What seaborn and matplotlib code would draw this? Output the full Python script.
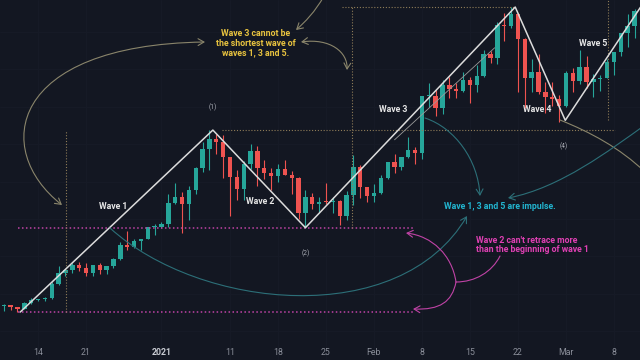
import numpy as np
import pandas as pd
import matplotlib
matplotlib.use('Agg')
import matplotlib.pyplot as plt
from matplotlib.path import Path
from matplotlib.patches import FancyArrowPatch
import seaborn as sns

# daily candles (price in thousand USD)
dates = pd.date_range('2020-12-07', '2021-03-11', freq='D')
opens = [19.36, 19.17, 18.32, 18.55, 18.26, 18.04, 18.81, 19.17, 19.27, 19.44, 21.35, 22.80, 23.14, 23.87,
         23.48, 22.75, 23.82, 23.24, 23.73, 24.69, 26.49, 26.28, 27.08, 27.36, 28.89,
         28.98, 29.39, 32.20, 33.00, 31.99, 33.95, 36.77, 39.37, 40.67, 40.24, 38.24, 35.57, 33.99, 37.40,
         39.15, 36.77, 36.10, 35.80, 36.63, 35.91, 35.47, 30.83, 33.00, 32.08, 32.26, 32.25, 32.47, 30.37,
         33.20, 36.90, 34.26,
         33.09, 33.50, 35.47, 37.62, 36.94, 38.29, 39.26, 38.87, 46.45, 46.51, 44.84, 47.97, 47.41, 47.19,
         48.63, 47.91, 49.13, 52.12, 51.55, 55.91, 55.84, 57.41, 54.09, 48.89, 49.68, 47.02, 46.28, 46.10,
         45.13, 49.59, 48.44, 50.35, 48.37, 48.75, 48.88, 50.97, 52.38, 54.88, 55.86]
highs = [19.42, 19.29, 18.64, 18.56, 18.27, 18.95, 19.41, 19.35, 19.57, 21.56, 23.77, 23.30, 24.17, 24.30,
         24.10, 23.84, 24.10, 23.78, 24.78, 26.87, 28.42, 27.40, 27.37, 28.99, 29.30,
         29.60, 33.30, 34.80, 33.60, 34.44, 36.94, 40.36, 41.95, 41.38, 41.30, 38.26, 36.60, 37.70, 40.10,
         39.75, 37.95, 36.85, 37.30, 37.85, 36.42, 35.60, 33.83, 33.46, 32.94, 34.88, 32.92, 32.56, 33.78,
         38.53, 37.20, 34.29,
         34.72, 35.90, 37.66, 38.71, 38.31, 40.96, 39.70, 46.20, 48.20, 47.31, 48.63, 48.99, 48.15, 49.72,
         49.00, 50.64, 52.62, 52.53, 56.37, 57.58, 58.35, 57.53, 54.18, 51.37, 52.04, 48.37, 48.38, 46.60,
         49.79, 50.20, 52.64, 51.77, 49.45, 49.20, 51.45, 52.40, 54.90, 57.39, 58.15]
lows = [18.90, 18.20, 17.65, 17.91, 17.57, 18.02, 18.71, 19.00, 19.05, 19.29, 21.23, 22.35, 22.77, 23.09,
        22.35, 22.35, 22.70, 22.70, 23.44, 24.50, 25.80, 26.10, 25.86, 27.32, 27.85,
        28.80, 29.00, 32.00, 28.13, 29.90, 33.30, 36.30, 36.60, 38.70, 35.50, 30.42, 32.53, 32.50, 36.70,
        34.41, 35.40, 33.85, 34.90, 35.90, 33.40, 30.07, 28.85, 31.39, 30.90, 32.06, 30.84, 29.24, 29.84,
        31.92, 32.83, 32.30,
        32.30, 33.42, 35.36, 36.16, 36.57, 38.22, 37.35, 37.99, 45.00, 43.73, 44.00, 46.13, 46.20, 47.00,
        45.57, 47.00, 48.95, 50.90, 50.71, 53.86, 55.48, 46.99, 44.89, 47.00, 46.67, 44.13, 45.15, 43.00,
        45.00, 47.05, 48.10, 47.50, 46.30, 47.07, 48.85, 49.27, 51.84, 53.03, 54.27]
closes = [19.17, 18.32, 18.55, 18.26, 18.04, 18.81, 19.17, 19.27, 19.44, 21.35, 22.80, 23.14, 23.87, 23.48,
          22.75, 23.82, 23.24, 23.73, 24.69, 26.49, 26.28, 27.08, 27.36, 28.89, 28.98,
          29.39, 32.20, 33.00, 31.99, 33.95, 36.77, 39.37, 40.67, 40.24, 38.24, 35.57, 33.99, 37.40, 39.15,
          36.77, 36.10, 35.80, 36.63, 35.91, 35.47, 30.83, 33.00, 32.08, 32.26, 32.25, 32.47, 30.37, 33.20,
          36.90, 34.26, 33.09,
          33.50, 35.47, 37.62, 36.94, 38.29, 39.26, 38.87, 46.45, 46.51, 44.84, 47.97, 47.41, 47.19, 48.63,
          47.91, 49.13, 52.12, 51.55, 55.91, 55.84, 57.41, 54.09, 48.89, 49.68, 47.02, 46.28, 46.10, 45.13,
          49.59, 48.44, 50.35, 48.37, 48.75, 48.88, 50.97, 52.38, 54.88, 55.86, 57.80]

# elliott wave pivots (days after 2020-12-01, price)
wave_days = [10.4, 38.5, 52.0, 82.6, 89.9, 101.0]
wave_prices = [17.57, 41.90, 28.85, 58.35, 43.20, 58.50]
channel_days = [65.0, 79.6]
channel_prices = [40.6, 52.9]

tick_dates = ['2020-12-14', '2020-12-21', '2021-01-01', '2021-01-11', '2021-01-18', '2021-01-25',
              '2021-02-01', '2021-02-08', '2021-02-15', '2021-02-22', '2021-03-01', '2021-03-08']
tick_labels = ['14', '21', '2021', '11', '18', '25', 'Feb', '8', '15', '22', 'Mar', '8']

BG = '#131722'
GREEN = '#26a69a'
RED = '#ef5350'
TAN = '#8f7c58'
ARC_TAN = '#8a856b'
TEAL_ARC = '#2c6f78'
PINK = '#c043a6'
FONT = 'Roboto'

origin = pd.Timestamp('2020-12-01')
days = np.array((dates - origin).days, dtype=float)
o, h, l, c = map(np.array, (opens, highs, lows, closes))

sns.set_theme(style='dark', rc={'axes.facecolor': BG, 'figure.facecolor': BG})
fig = plt.figure(figsize=(6.4, 3.6), dpi=100)
ax = fig.add_axes([0, 0, 1, 1])
ax.set_xlim(7.45, 100.8)
ax.set_ylim(11.16, 59.29)

W, H = 640, 360


def fa(x, y):
    return (x / W, 1 - y / H)


# candles
cols = np.where(c >= o, GREEN, RED)
ax.vlines(days, l, h, colors=cols, lw=0.8, zorder=2)
ax.bar(days, np.maximum(np.abs(c - o), 0.12), bottom=np.minimum(o, c), width=0.64,
       color=cols, linewidth=0, zorder=3)

# wave lines
sns.lineplot(x=wave_days, y=wave_prices, sort=False, estimator=None, color='#dcdcdc', lw=1.1,
             ax=ax, zorder=5)
ax.plot(channel_days, channel_prices, color='#9a9a9a', lw=0.6, zorder=5)

# levels
dot = (0, (1, 1.6))
for p in (wave_prices[0], wave_prices[2]):
    ax.plot([10.1, 67.7], [p, p], color=PINK, lw=1.1, ls=dot, zorder=4)
ax.plot([39.8, 97.1], [wave_prices[1]] * 2, color=TAN, lw=0.8, ls=dot, zorder=4)
ax.plot([17.1, 17.1], [wave_prices[0], wave_prices[1]], color=TAN, lw=0.8, ls=dot, zorder=4)
ax.plot([57.3, wave_days[3]], [wave_prices[3]] * 2, color=TAN, lw=0.8, ls=dot, zorder=4)
ax.plot([58.8, 58.8], [wave_prices[2], wave_prices[3]], color=TAN, lw=0.8, ls=dot, zorder=4)
ax.plot([96.1, 96.1], [wave_prices[4], 59.5], color=TAN, lw=0.8, ls=dot, zorder=4)


def curve(points, color, style='-', lw=0.8):
    verts = [fa(*p) for p in points]
    codes = [Path.MOVETO] + [Path.CURVE4] * (len(points) - 1)
    arr = FancyArrowPatch(path=Path(verts, codes), arrowstyle=style, mutation_scale=7,
                          color=color, lw=lw, transform=ax.transAxes, zorder=6)
    ax.add_patch(arr)


head = ',head_length=0.6,head_width=0.35'
curve([(62, 205), (-8, 150), (8, 45), (205, 42)], ARC_TAN, '<->' + head)
curve([(324, -4), (315, 12), (305, 22), (296, 30)], ARC_TAN, '->' + head)
curve([(301, 42), (330, 38), (348, 52), (347, 70)], ARC_TAN, '<->' + head)
curve([(560, 120), (590, 132), (620, 148), (645, 172)], ARC_TAN)
curve([(110, 228), (200, 310), (400, 330), (467, 216)], TEAL_ARC, '->' + head)
curve([(425, 118), (455, 128), (478, 160), (480, 196)], TEAL_ARC, '->' + head)
curve([(645, 125), (610, 150), (560, 188), (508, 198)], TEAL_ARC, '->' + head)
curve([(456, 282), (475, 282), (492, 272), (500, 256)], PINK)
curve([(456, 282), (452, 255), (432, 236), (406, 233)], PINK, '->' + head)
curve([(456, 282), (452, 302), (440, 310), (413, 309)], PINK, '->' + head)

# texts
fs = 6.3
txt = dict(transform=ax.transAxes, family=FONT, fontweight='bold', zorder=7)
ax.text(*fa(256, 43), 'Wave 3 cannot be\nthe shortest wave of\nwaves 1, 3 and 5.', ha='center',
        va='center', color='#e8c33f', fontsize=fs, linespacing=1.05, **txt)
ax.text(*fa(500, 207), 'Wave 1, 3 and 5 are impulse.', ha='center', va='center', color='#22b5d0',
        fontsize=fs, **txt)
ax.text(*fa(476, 245), "Wave 2 can't retrace more\nthan the beginning of wave 1", ha='left',
        va='center', color='#e040b4', fontsize=fs, linespacing=1.05, **txt)
for label, x, y in [('Wave 1', 113, 207), ('Wave 2', 260, 202), ('Wave 3', 393, 110),
                    ('Wave 4', 537, 110), ('Wave 5', 593, 44)]:
    ax.text(*fa(x, y), label, ha='center', va='center', color='#e6e6e6', fontsize=fs, **txt)
for label, x, y in [('(1)', 213, 107), ('(2)', 306, 253), ('(4)', 564, 146)]:
    ax.text(*fa(x, y), label, ha='center', va='center', color='#a8abb3', fontsize=4.8,
            transform=ax.transAxes, family=FONT, zorder=7)

# axes
xt = [(pd.Timestamp(d) - origin).days for d in tick_dates]
ax.set_xticks(xt)
ax.set_xticklabels(tick_labels)
ax.set_yticks(np.arange(15, 60, 5))
ax.tick_params(axis='x', direction='in', length=0, pad=-8.6, colors='#8a8e99', labelsize=6.3)
ax.tick_params(axis='y', length=0, labelleft=False)
for t in ax.get_xticklabels():
    t.set_family(FONT)
    if t.get_text() == '2021':
        t.set_fontweight('bold')
        t.set_color('#c9ccd3')
ax.grid(True, color='#171b27', lw=0.6)
for s in ax.spines.values():
    s.set_visible(False)

fig.savefig('out.png', dpi=100, facecolor=BG)
